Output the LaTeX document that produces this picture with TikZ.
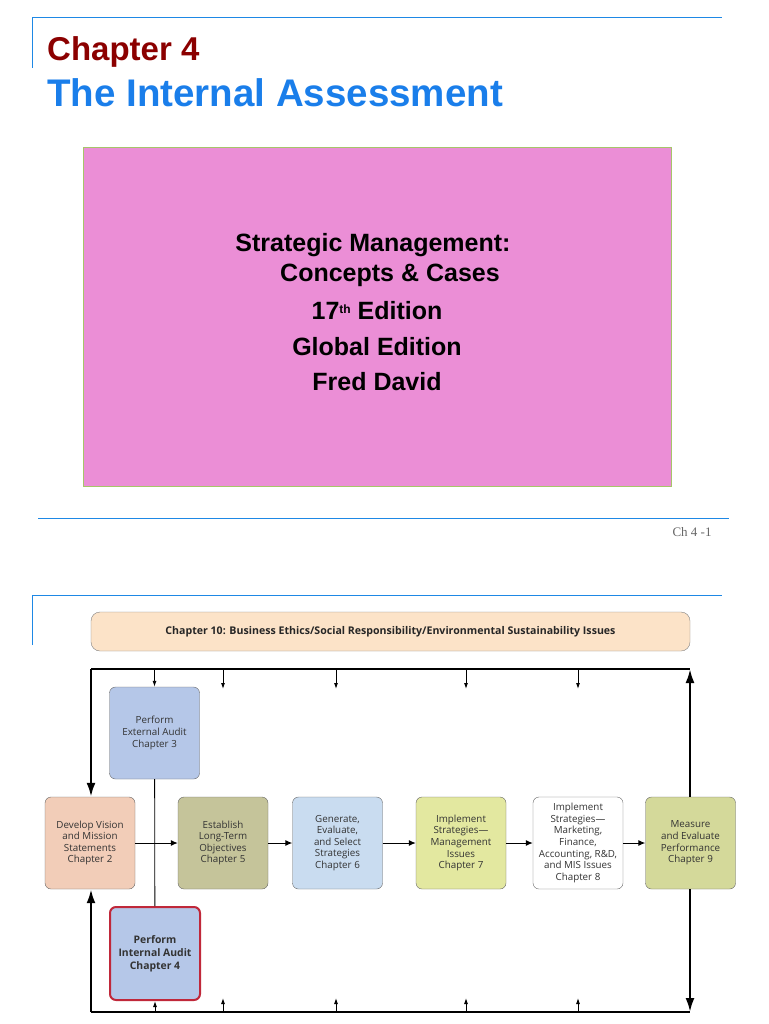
\documentclass[tikz,border=0pt]{standalone}
\usepackage{fontspec}
\setmainfont{Liberation Sans}
\newfontfamily\boxfont{Open Sans}
\newfontfamily\footfont{Liberation Serif}
\usetikzlibrary{arrows.meta}
\definecolor{slideblue}{HTML}{1E88E5}
\definecolor{titlered}{HTML}{8B0000}
\definecolor{titleblue}{HTML}{1A7EEA}
\definecolor{coverpink}{HTML}{EB8ED6}
\definecolor{covergreen}{HTML}{A6C46A}
\definecolor{bannerfill}{HTML}{FCE3C8}
\definecolor{visionfill}{HTML}{F2CDB8}
\definecolor{objfill}{HTML}{C5C49A}
\definecolor{genfill}{HTML}{C9DCF0}
\definecolor{mgmtfill}{HTML}{E3E8A0}
\definecolor{measfill}{HTML}{D4D99A}
\definecolor{auditfill}{HTML}{B5C7E8}
\definecolor{auditred}{HTML}{C0283A}
\tikzset{
  stage/.style={draw=black!60, rounded corners=6pt, minimum width=90pt,
    minimum height=92pt, align=center, font=\boxfont\fontsize{9.8}{11.6}\selectfont,
    text=black!80, inner sep=1pt},
  flow/.style={-{Latex[length=7pt,width=6pt]}, line width=1pt},
  big/.style={-{Latex[length=14pt,width=9pt]}, line width=2.4pt},
  tick/.style={-{Latex[length=6pt,width=4pt]}, line width=0.9pt},
}
\begin{document}
\begin{tikzpicture}[x=1pt, y=-1pt]
  \useasboundingbox (0,0) rectangle (768,1024);
  % first slide
  \draw[slideblue, line width=1pt] (32,68) -- (32,18) -- (722,18);
  \node[anchor=base west, inner sep=0pt, text=titlered, font=\bfseries\fontsize{33}{36}\selectfont]
    (chap) at (47,61) {Chapter 4};
  \node[anchor=base west, inner sep=0pt, text=titleblue, font=\bfseries\fontsize{38.5}{42}\selectfont]
    (title) at (47,107) {The Internal Assessment};
  \node[draw=covergreen, fill=coverpink, minimum width=588pt, minimum height=339pt]
    (cover) at (377,316.5) {};
  \begin{scope}[font=\bfseries\fontsize{25}{28}\selectfont]
    \node (l1) at (373,245) {Strategic Management:};
    \node (l2) at (390,275) {Concepts \& Cases};
    \node (l3) at (377,311) {17{\fontsize{12}{12}\selectfont\raisebox{6pt}{th}} Edition};
    \node (l4) at (377,347) {Global Edition};
    \node (l5) at (377,382) {Fred David};
  \end{scope}
  \draw[slideblue, line width=1pt] (38,518) -- (729,518);
  \node[text=black!60, font=\footfont\fontsize{13}{14}\selectfont] (pg) at (692,532) {Ch 4 -1};
  % second slide
  \draw[slideblue, line width=1pt] (32,645) -- (32,595) -- (722,595);
  \node[draw=black!50, fill=bannerfill, rounded corners=9pt, minimum width=599pt,
    minimum height=39pt, font=\boxfont\bfseries\fontsize{10.6}{12}\selectfont, text=black!85]
    (ethics) at (390.5,631.5) {Chapter 10: Business Ethics/Social Responsibility/Environmental Sustainability Issues};
  \node[stage, fill=visionfill] (vision) at (90,843) {Develop Vision\\and Mission\\Statements\\Chapter 2};
  \node[stage, fill=objfill] (obj) at (223,843) {Establish\\Long-Term\\Objectives\\Chapter 5};
  \node[stage, fill=genfill] (gen) at (337.5,843) {Generate,\\Evaluate,\\and Select\\Strategies\\Chapter 6};
  \node[stage, fill=mgmtfill] (mgmt) at (461,843) {Implement\\Strategies\textemdash\\Management\\Issues\\Chapter 7};
  \node[stage, fill=white] (mkt) at (578,843) {Implement\\Strategies\textemdash\\Marketing,\\Finance,\\Accounting, R\&D,\\and MIS Issues\\Chapter 8};
  \node[stage, fill=measfill] (meas) at (690.5,843) {Measure\\and Evaluate\\Performance\\Chapter 9};
  \node[stage, fill=auditfill] (ext) at (154.5,733) {Perform\\External Audit\\Chapter 3};
  \node[stage, fill=auditfill, draw=auditred, line width=2pt, minimum height=93pt,
    font=\boxfont\bfseries\fontsize{10.4}{13}\selectfont] (int) at (155,953.5) {Perform\\Internal Audit\\Chapter 4};
  \coordinate (tl) at (91,669);
  \coordinate (tr) at (690,669);
  \coordinate (bl) at (91,1012);
  \coordinate (br) at (690,1012);
  \draw[line width=2.4pt] (tl) -- (tr);
  \draw[line width=2.4pt] (bl) -- (br);
  \draw[big] (tl) -- (vision.north -| tl);
  \draw[big] (bl) -- (vision.south -| bl);
  \draw[big] (meas.north -| tr) -- (tr);
  \draw[big] (meas.south -| br) -- (br);
  \draw[line width=0.8pt] (ext) -- (int);
  \draw[flow] (vision) -- (obj);
  \draw[flow] (obj) -- (gen);
  \draw[flow] (gen) -- (mgmt);
  \draw[flow] (mgmt) -- (mkt);
  \draw[flow] (mkt) -- (meas);
  \draw[tick] (ext.north |- tl) -- (ext.north);
  \draw[tick] (int.south |- bl) -- (int.south);
  \foreach \px in {223,336,466,578} {
    \draw[tick] (\px,669) -- (\px,689);
    \draw[tick] (\px,1012) -- (\px,998);
  }
\end{tikzpicture}
\end{document}
